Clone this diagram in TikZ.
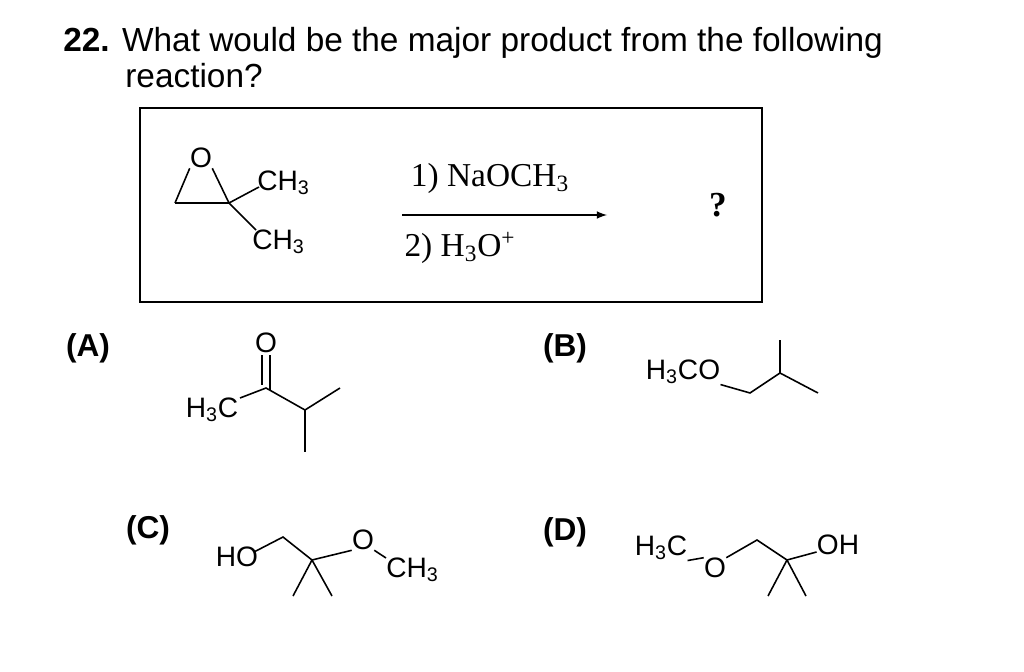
\documentclass[tikz,border=0pt]{standalone}
\usepackage{fontspec}
\setmainfont{Liberation Sans}
\newfontfamily\serifr{Liberation Serif}
\newcommand{\sbs}[1]{\textsubscript{#1}}
\begin{document}
\begin{tikzpicture}[x=0.02cm,y=-0.02cm,
  bd/.style={line width=0.9pt},
  lab/.style={font=\fontsize{16}{18}\selectfont,inner sep=0pt},
  ttl/.style={font=\fontsize{19}{21}\selectfont,inner sep=0pt,anchor=base west},
  opt/.style={font=\bfseries\fontsize{18}{20}\selectfont,inner sep=0pt},
  rg/.style={font=\serifr\fontsize{19}{21}\selectfont,inner sep=0pt}]
\useasboundingbox (0,0) rectangle (1024,672);
\node[ttl] (t1) at (63,52) {\textbf{22.} What would be the major product from the following};
\node[ttl] (t2) at (125,88) {reaction?};
\draw[line width=1.1pt] (140,108) rectangle (762,302);
% epoxide
\node[lab] (eo) at (201,158) {O};
\coordinate (e1) at (175,203); \coordinate (e2) at (229,203);
\draw[bd] (e1)--(e2); \draw[bd] (e1)--(eo.south west); \draw[bd] (eo.south east)--(e2);
\node[lab,anchor=west] (m1) at (257,183) {CH\sbs{3}};
\node[lab,anchor=west] (m2) at (252,242) {CH\sbs{3}};
\draw[bd] (e2)--(259,187); \draw[bd] (e2)--(256,230);
\node[rg] (r1) at (490,178) {1) NaOCH\sbs{3}};
\node[rg] (r2) at (460,248) {2) H\sbs{3}O\textsuperscript{+}};
\draw[line width=1pt,-latex] (402,215)--(607,215);
\node[rg,font=\serifr\bfseries\fontsize{20}{22}\selectfont] (q) at (718,205) {?};
% A
\node[opt] (A) at (88,348) {(A)};
\node[lab] (ao) at (266,343) {O};
\node[lab] (ah) at (212,410) {H\sbs{3}C};
\coordinate (ac) at (266,388); \coordinate (ab) at (305,410);
\draw[bd] (262,355)--(262,385); \draw[bd] (270,355)--(270,390);
\draw[bd] (240,398)--(ac)--(ab)--(340,388); \draw[bd] (ab)--(305,452);
% B
\node[opt] (B) at (565,348) {(B)};
\node[lab] (bh) at (683,372) {H\sbs{3}CO};
\coordinate (bc) at (780,373);
\draw[bd] (bh.south east)--(750,393)--(bc)--(780,340); \draw[bd] (bc)--(818,393);
% C
\node[opt] (C) at (148,530) {(C)};
\node[lab] (ch) at (237,557) {HO};
\node[lab] (co) at (363,540) {O};
\node[lab,anchor=west] (cm) at (386,570) {CH\sbs{3}};
\coordinate (cq) at (312,560);
\draw[bd] (254,552)--(283,537)--(cq)--(co.south west); \draw[bd] (co.south east)--(386,558);
\draw[bd] (cq)--(293,596); \draw[bd] (cq)--(332,596);
% D
\node[opt] (D) at (565,532) {(D)};
\node[lab] (dh) at (661,548) {H\sbs{3}C};
\node[lab] (do) at (715,568) {O};
\node[lab] (doh) at (838,545) {OH};
\coordinate (dq) at (787,560);
\draw[bd] (dh.south east)--(do.north west); \draw[bd] (do.north east)--(757,540)--(dq)--(doh.west|-0,552);
\draw[bd] (dq)--(768,596); \draw[bd] (dq)--(806,596);
\end{tikzpicture}
\end{document}
